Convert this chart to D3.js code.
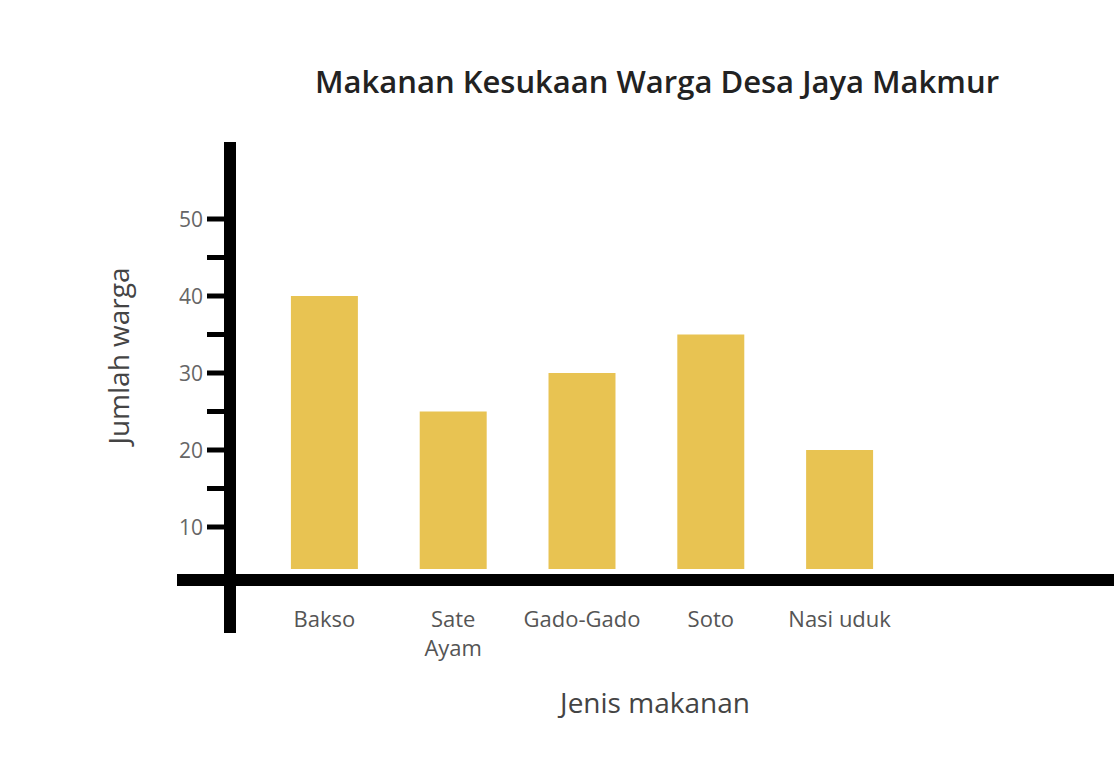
<!DOCTYPE html>
<html lang="id">
<head>
    <meta charset="UTF-8">
    <title>Makanan Kesukaan Warga Desa Jaya Makmur</title>
    <script src="https://d3js.org/d3.v7.min.js"></script>
    <style>
        body {
            margin: 0;
            padding: 0;
            overflow: hidden;
            background-color: #ffffff;
            font-family: 'Open Sans', 'Noto Sans', sans-serif;
        }
        .title { font-size: 31px; font-weight: 600; fill: #222; }
        .tick-label { font-size: 21px; fill: #666; }
        .cat-label { font-size: 22px; fill: #555; }
        .axis-title { font-size: 28px; fill: #444; }
    </style>
</head>
<body>
    <svg id="chart" width="1114" height="760"></svg>

    <script>
        // --- data ---
        const categories = ["Bakso", "Sate Ayam", "Gado-Gado", "Soto", "Nasi uduk"];
        const categoryLines = [["Bakso"], ["Sate", "Ayam"], ["Gado-Gado"], ["Soto"], ["Nasi uduk"]];
        const values = [40, 25, 30, 35, 20];
        const yTicks = [10, 15, 20, 25, 30, 35, 40, 45, 50];
        const yTickLabels = [10, 20, 30, 40, 50];

        const svg = d3.select("#chart");

        // scales
        const x = d3.scaleBand()
            .domain(categories)
            .range([260, 904])
            .paddingInner(0.48)
            .paddingOuter(0.24);

        const y = d3.scaleLinear()
            .domain([0, 50])
            .range([604, 219]);

        const axisX = 230;     // vertical axis position
        const axisY = 580;     // horizontal axis position
        const barBase = 569;   // bars stop just above the x axis

        // bars
        svg.append("g")
            .selectAll("rect")
            .data(values)
            .enter().append("rect")
            .attr("x", (d, i) => x(categories[i]))
            .attr("width", x.bandwidth())
            .attr("y", d => y(d))
            .attr("height", d => barBase - y(d))
            .attr("fill", "#e8c352");

        // thick axes
        svg.append("line")
            .attr("x1", 177).attr("x2", 1114)
            .attr("y1", axisY).attr("y2", axisY)
            .attr("stroke", "#000").attr("stroke-width", 12);

        svg.append("line")
            .attr("x1", axisX).attr("x2", axisX)
            .attr("y1", y(60)).attr("y2", 633)
            .attr("stroke", "#000").attr("stroke-width", 12);

        // y ticks
        svg.append("g")
            .selectAll("line")
            .data(yTicks)
            .enter().append("line")
            .attr("x1", 207).attr("x2", axisX)
            .attr("y1", d => y(d)).attr("y2", d => y(d))
            .attr("stroke", "#000").attr("stroke-width", 5);

        svg.append("g")
            .selectAll("text")
            .data(yTickLabels)
            .enter().append("text")
            .attr("class", "tick-label")
            .attr("x", 203)
            .attr("y", d => y(d))
            .attr("dy", "0.36em")
            .attr("text-anchor", "end")
            .text(d => d);

        // category labels (under the axis), one text per line
        const catG = svg.append("g")
            .selectAll("g")
            .data(categories)
            .enter().append("g")
            .attr("transform", d => `translate(${x(d) + x.bandwidth() / 2},627)`);

        catG.selectAll("text")
            .data((d, i) => categoryLines[i])
            .enter().append("text")
            .attr("class", "cat-label")
            .attr("text-anchor", "middle")
            .attr("y", (d, i) => i * 29)
            .text(d => d);

        // titles
        svg.append("text")
            .attr("class", "title")
            .attr("x", 657)
            .attr("y", 93)
            .attr("text-anchor", "middle")
            .text("Makanan Kesukaan Warga Desa Jaya Makmur");

        svg.append("text")
            .attr("class", "axis-title")
            .attr("x", 655)
            .attr("y", 713)
            .attr("text-anchor", "middle")
            .text("Jenis makanan");

        svg.append("text")
            .attr("class", "axis-title")
            .attr("transform", "translate(129,356) rotate(-90)")
            .attr("text-anchor", "middle")
            .text("Jumlah warga");
    </script>
</body>
</html>
